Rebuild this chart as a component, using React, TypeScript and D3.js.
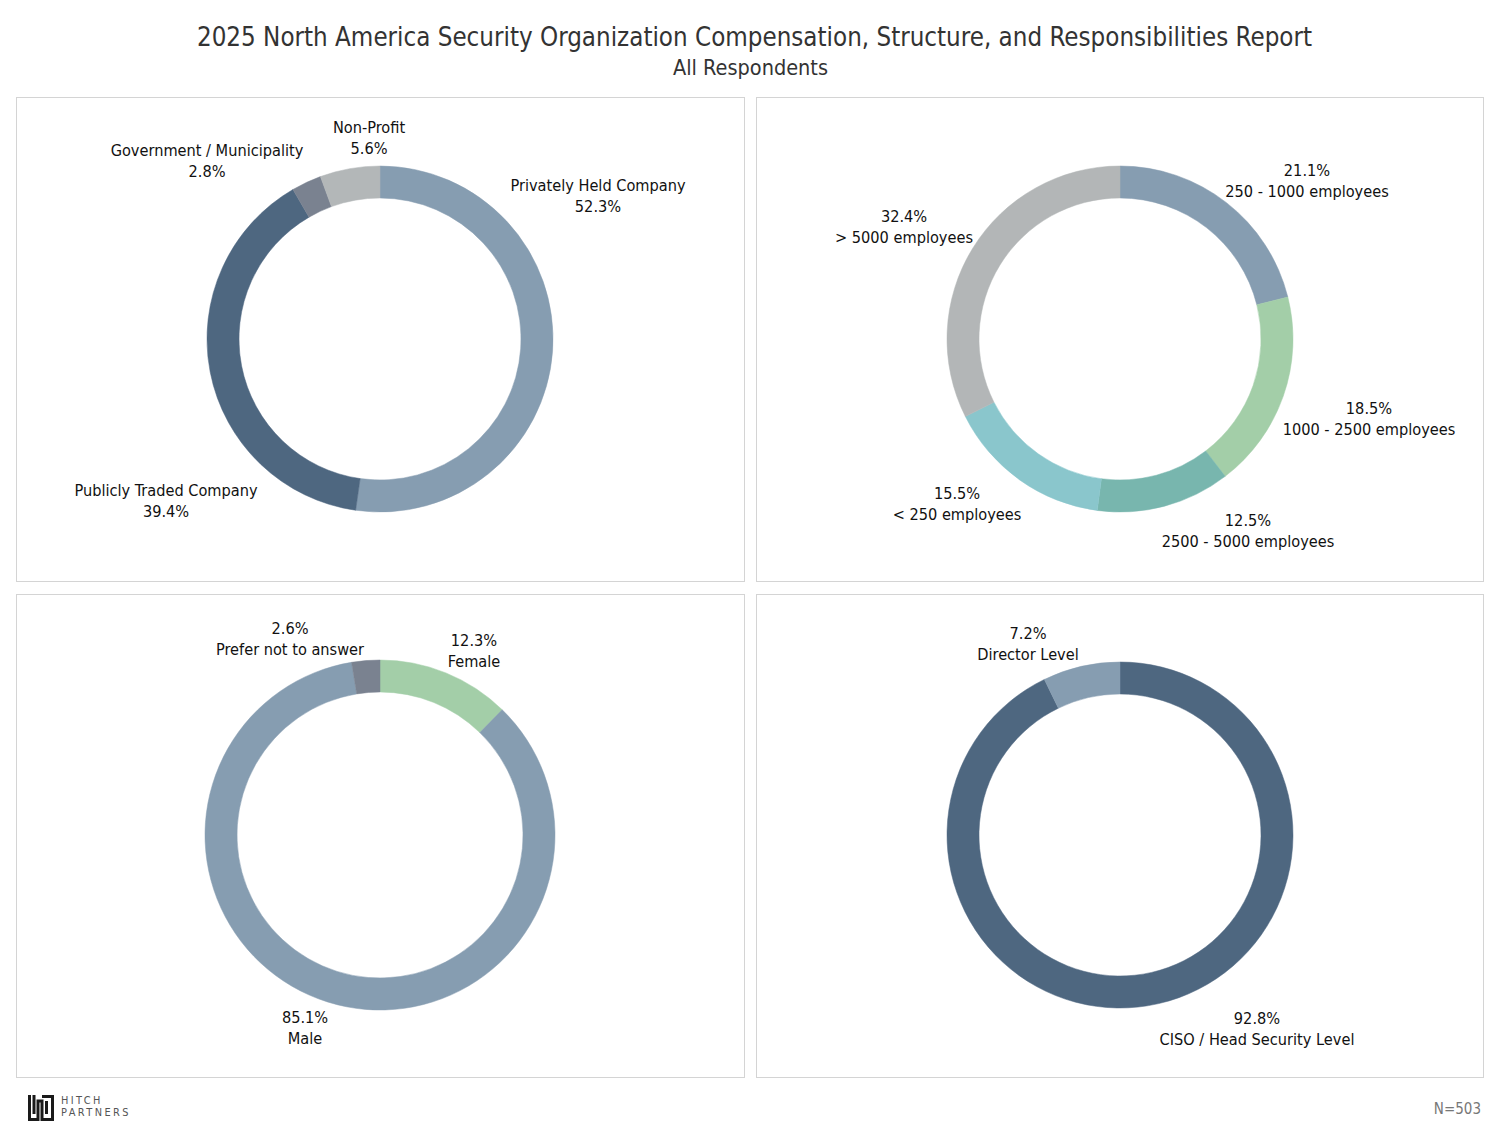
import React from "react";
import { pie, arc, PieArcDatum } from "d3";

// ---- data ----
const orgTypes = ["Privately Held Company", "Publicly Traded Company", "Government / Municipality", "Non-Profit"];
const orgShares = [52.3, 39.4, 2.8, 5.6];

const sizeBands = ["250 - 1000 employees", "1000 - 2500 employees", "2500 - 5000 employees", "< 250 employees", "> 5000 employees"];
const sizeShares = [21.1, 18.5, 12.5, 15.5, 32.4];

const genders = ["Female", "Male", "Prefer not to answer"];
const genderShares = [12.3, 85.1, 2.6];

const levels = ["CISO / Head Security Level", "Director Level"];
const levelShares = [92.8, 7.2];

const sampleSize = 503;

// ---- layout ----
const W = 1500;
const H = 1141;
const font = "'DejaVu Sans Condensed', 'DejaVu Sans', sans-serif";

type Panel = {
  labels: string[];
  values: number[];
  colors: string[];
  // offsets of each label block from the donut centre
  labelOffsets: [number, number][];
  nameFirst: boolean;
  box: [number, number, number, number];
  center: [number, number];
  outer: number;
};

const panels: Panel[] = [
  {
    labels: orgTypes,
    values: orgShares,
    colors: ["#869db1", "#4e6780", "#7a8290", "#b3b7b8"],
    labelOffsets: [[218, -144], [-214, 161], [-173, -179], [-11, -202]],
    nameFirst: true,
    box: [16, 97, 728, 484],
    center: [380, 339],
    outer: 173,
  },
  {
    labels: sizeBands,
    values: sizeShares,
    colors: ["#869db1", "#a3cea8", "#78b6ae", "#8ac6cc", "#b3b6b7"],
    labelOffsets: [[187, -159], [249, 79], [128, 191], [-163, 164], [-216, -113]],
    nameFirst: false,
    box: [756, 97, 727, 484],
    center: [1120, 339],
    outer: 173,
  },
  {
    labels: genders,
    values: genderShares,
    colors: ["#a3cea8", "#869db1", "#7a8290"],
    labelOffsets: [[94, -185], [-75, 192], [-90, -197]],
    nameFirst: false,
    box: [16, 594, 728, 483],
    center: [380, 835],
    outer: 175,
  },
  {
    labels: levels,
    values: levelShares,
    colors: ["#4e6780", "#869db1"],
    labelOffsets: [[137, 193], [-92, -192]],
    nameFirst: false,
    box: [756, 594, 727, 483],
    center: [1120, 835],
    outer: 173,
  },
];

const ringWidth = 32;

const Donut = ({ p }: { p: Panel }) => {
  const layout = pie<number>().sort(null).value((d) => d);
  const slices = layout(p.values);
  const arcGen = arc<PieArcDatum<number>>()
    .innerRadius(p.outer - ringWidth)
    .outerRadius(p.outer);
  const [bx, by, bw, bh] = p.box;
  return (
    <g>
      <rect x={bx + 0.5} y={by + 0.5} width={bw} height={bh} fill="#fff" stroke="#d4d4d4" strokeWidth={1} />
      <g transform={`translate(${p.center[0]},${p.center[1]})`}>
        {slices.map((s, i) => (
          <path key={i} d={arcGen(s) || ""} fill={p.colors[i]} stroke={p.colors[i]} strokeWidth={0.5} />
        ))}
        {slices.map((s, i) => {
          const [dx, dy] = p.labelOffsets[i];
          const pct = `${p.values[i].toFixed(1)}%`;
          const lines = p.nameFirst ? [p.labels[i], pct] : [pct, p.labels[i]];
          return (
            <text key={`l${i}`} x={dx} y={dy} textAnchor="middle" fontSize={16.2} fill="#111" fontFamily={font}>
              <tspan x={dx} dy={-4}>{lines[0]}</tspan>
              <tspan x={dx} dy={20.5}>{lines[1]}</tspan>
            </text>
          );
        })}
      </g>
    </g>
  );
};

const Logo = () => (
  <g transform="translate(28,1095)">
    <path
      d="M1.5 0 V24.5 H10 V6 H14 V24.5 H24.5 V0"
      fill="none"
      stroke="#1a1a1a"
      strokeWidth={3}
    />
    <path d="M6 0 V19 M18.5 6 V19 M14 1.5 H24.5" fill="none" stroke="#1a1a1a" strokeWidth={3} />
    <text x={33} y={9} fontSize={9.8} letterSpacing={2.4} fill="#555" fontFamily="'DejaVu Sans', sans-serif">HITCH</text>
    <text x={33} y={21} fontSize={9.8} letterSpacing={2.4} fill="#555" fontFamily="'DejaVu Sans', sans-serif">PARTNERS</text>
  </g>
);

export default function App() {
  return (
    <div style={{ position: "absolute", left: 0, top: 0 }}>
      <svg width={W} height={H} viewBox={`0 0 ${W} ${H}`} style={{ display: "block", background: "#fff" }}>
        <text x={754.5} y={46} textAnchor="middle" fontSize={25.7} fill="#333" fontFamily={font}>
          2025 North America Security Organization Compensation, Structure, and Responsibilities Report
        </text>
        <text x={750.5} y={75} textAnchor="middle" fontSize={21.5} fill="#333" fontFamily={font}>
          All Respondents
        </text>
        {panels.map((p, i) => (
          <Donut key={i} p={p} />
        ))}
        <Logo />
        <text x={1481} y={1114} textAnchor="end" fontSize={15} fill="#777" fontFamily={font}>
          {`N=${sampleSize}`}
        </text>
      </svg>
    </div>
  );
}
